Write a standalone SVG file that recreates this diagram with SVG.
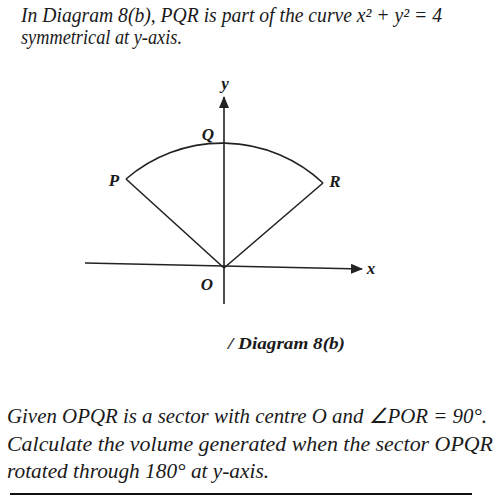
<svg xmlns="http://www.w3.org/2000/svg" width="500" height="500" viewBox="0 0 500 500">
<style>
text{font-family:"Liberation Serif","Times New Roman",serif;font-style:italic;fill:#1a1a1a}
.lbl{font-weight:bold;font-size:17px;text-anchor:middle}
.ln{fill:none;stroke:#222;stroke-width:1.6}
</style>
<defs>
<marker id="ah" viewBox="0 0 12 10" refX="11" refY="5" markerWidth="12" markerHeight="10" markerUnits="userSpaceOnUse" orient="auto">
<path d="M0,0 L12,5 L0,10 Z" fill="#222"/>
</marker>
</defs>
<rect width="500" height="500" fill="#fff"/>
<text x="21" y="22" font-size="20" textLength="421" lengthAdjust="spacingAndGlyphs">In Diagram 8(b), PQR is part of the curve x² + y² = 4</text>
<text x="21" y="44" font-size="20" textLength="161" lengthAdjust="spacingAndGlyphs">symmetrical at y-axis.</text>
<g id="connectors">
<line id="x-axis" class="ln" x1="85" y1="263" x2="362" y2="269" marker-end="url(#ah)"/>
<line id="y-axis" class="ln" x1="224" y1="304" x2="224" y2="97" marker-end="url(#ah)"/>
<line id="OP" class="ln" x1="224" y1="268" x2="126" y2="179"/>
<line id="OR" class="ln" x1="224" y1="268" x2="323" y2="183"/>
<path id="arcPQR" class="ln" d="M126,179 A147,147 0 0 1 323,183"/>
</g>
<g id="O"><text class="lbl" x="207" y="290">O</text></g>
<g id="P"><text class="lbl" x="114" y="186">P</text></g>
<g id="Q"><text class="lbl" x="208" y="140">Q</text></g>
<g id="R"><text class="lbl" x="335" y="187">R</text></g>
<g id="ylabel"><text class="lbl" x="225" y="89">y</text></g>
<g id="xlabel"><text class="lbl" x="371" y="274">x</text></g>
<text x="228" y="349" font-size="16" font-weight="bold" textLength="117" lengthAdjust="spacingAndGlyphs">/ Diagram 8(b)</text>
<text x="7" y="423" font-size="21" textLength="480" lengthAdjust="spacingAndGlyphs">Given OPQR is a sector with centre O and ∠POR = 90°.</text>
<text x="7" y="451" font-size="21" textLength="486" lengthAdjust="spacingAndGlyphs">Calculate the volume generated when the sector OPQR</text>
<text x="7" y="478" font-size="21" textLength="262" lengthAdjust="spacingAndGlyphs">rotated through 180° at y-axis.</text>
<line x1="10" y1="494" x2="472" y2="494" stroke="#111" stroke-width="2"/>
</svg>
